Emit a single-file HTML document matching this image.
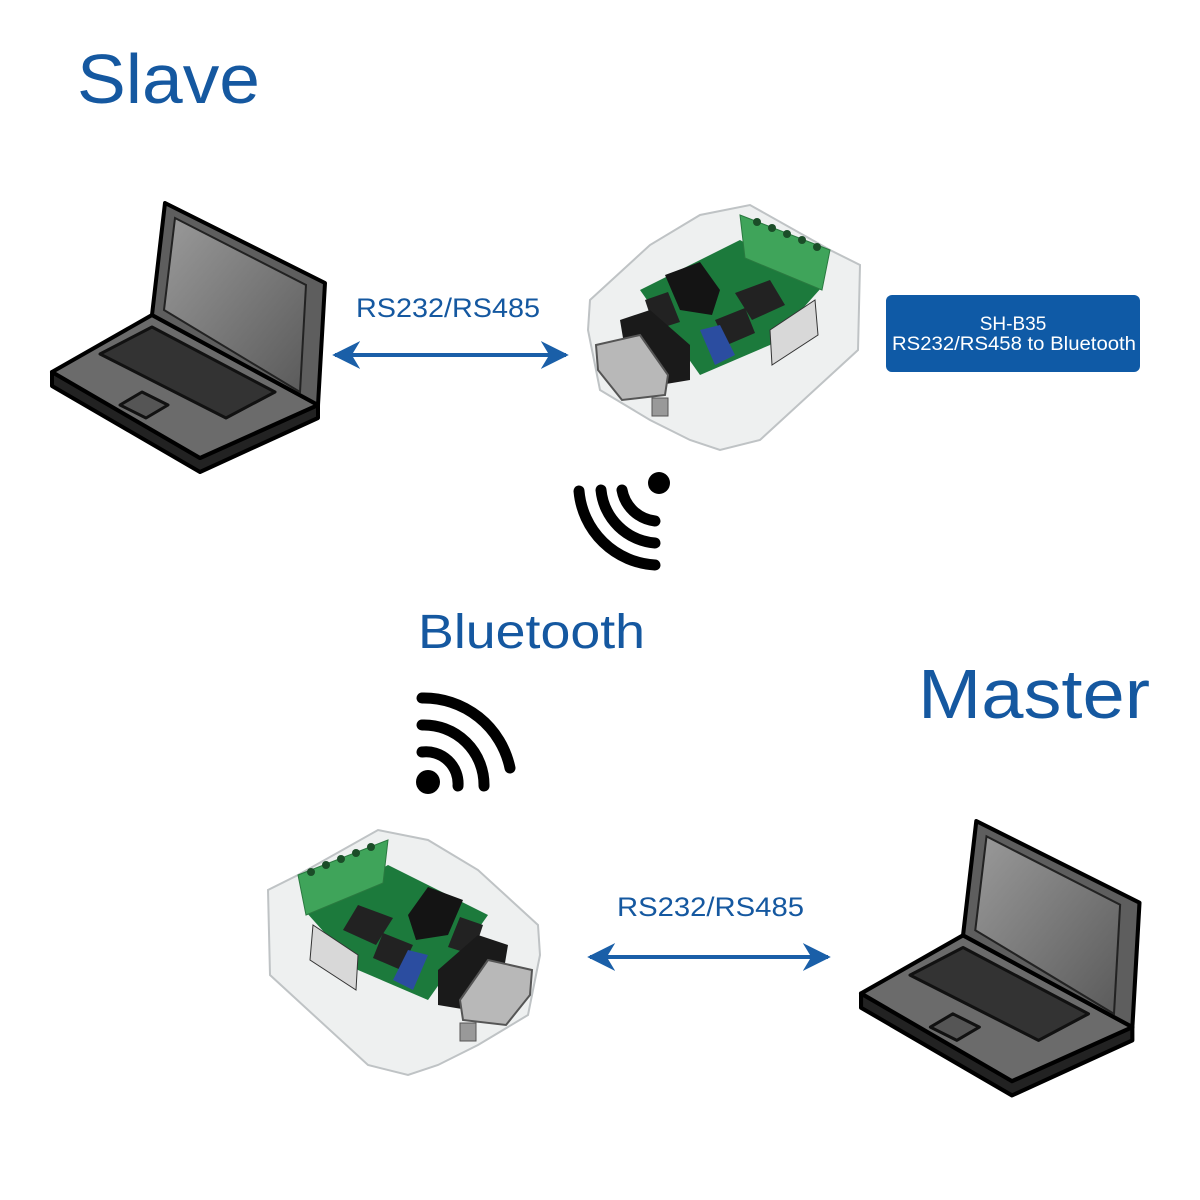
<!DOCTYPE html>
<html><head><meta charset="utf-8"><style>
html,body{margin:0;padding:0;background:#fff;}
svg{display:block;}
text{font-family:"Liberation Sans","DejaVu Sans",sans-serif;}
</style></head><body>
<svg width="1200" height="1200" viewBox="0 0 1200 1200" xmlns="http://www.w3.org/2000/svg">
<defs>
<linearGradient id="scr" x1="0" y1="0" x2="1" y2="1"><stop offset="0" stop-color="#9a9a9a"/><stop offset="1" stop-color="#5a5a5a"/></linearGradient>
<marker id="ah" viewBox="0 0 10 10" refX="9" refY="5" markerWidth="7" markerHeight="7" orient="auto-start-reverse"><path d="M0,0 L10,5 L0,10 L3,5 z" fill="#1a5fa8"/></marker>
<g id="laptop">
 <polygon points="52,372 200,458 318,405 318,418 200,472 52,386" fill="#222" stroke="#000" stroke-width="4" stroke-linejoin="round"/>
 <polygon points="52,372 152,315 318,405 200,458" fill="#6b6b6b" stroke="#000" stroke-width="4" stroke-linejoin="round"/>
 <polygon points="152,315 165,203 325,283 318,405" fill="#5e5e5e" stroke="#000" stroke-width="4" stroke-linejoin="round"/>
 <polygon points="164,310 175,218 306,285 300,392" fill="url(#scr)" stroke="#222" stroke-width="2"/>
 <polygon points="100,354 152,327 275,392 226,418" fill="#333" stroke="#111" stroke-width="3" stroke-linejoin="round"/>
 <polygon points="120,405 142,392 168,405 146,418" fill="#555" stroke="#111" stroke-width="3" stroke-linejoin="round"/>
</g>
<g id="dev">
 <polygon points="590,300 650,245 700,215 750,205 830,250 860,265 858,350 760,440 720,450 690,440 650,420 600,390 588,330" fill="#eef0f0" stroke="#bfc3c5" stroke-width="2"/>
 <polygon points="640,290 740,240 822,287 770,345 700,375" fill="#1c7a3c"/>
 <polygon points="740,215 830,250 822,290 745,258" fill="#3fa45a" stroke="#2a7a40"/>
 <g fill="#1b4d28"><circle cx="757" cy="222" r="4"/><circle cx="772" cy="228" r="4"/><circle cx="787" cy="234" r="4"/><circle cx="802" cy="240" r="4"/><circle cx="817" cy="247" r="4"/></g>
 <polygon points="665,275 700,262 720,290 712,315 680,310" fill="#141414"/>
 <polygon points="645,300 668,292 680,322 655,330" fill="#222"/>
 <polygon points="620,320 650,310 690,345 690,380 660,385 625,350" fill="#1a1a1a"/>
 <polygon points="735,293 770,280 785,305 752,320" fill="#222"/>
 <polygon points="715,320 745,308 755,333 727,345" fill="#222"/>
 <polygon points="700,330 720,325 735,355 715,365" fill="#2b4da0"/>
 <polygon points="770,330 815,300 818,335 772,365" fill="#d8d8d8" stroke="#333"/>
 <polygon points="596,345 640,335 668,375 665,395 622,400 598,370" fill="#b8b8b8" stroke="#555" stroke-width="2"/>
 <rect x="652" y="398" width="16" height="18" fill="#999" stroke="#555"/>
</g>
</defs>

<text x="77" y="103" font-size="70" fill="#1558a0" textLength="183" lengthAdjust="spacingAndGlyphs">Slave</text>
<text x="918" y="718" font-size="70" fill="#1558a0" textLength="232" lengthAdjust="spacingAndGlyphs">Master</text>
<text x="418" y="648" font-size="48" fill="#1558a0" textLength="227" lengthAdjust="spacingAndGlyphs">Bluetooth</text>

<use href="#laptop"/>
<use href="#laptop" transform="translate(808,614) scale(1.02)"/>
<use href="#dev"/>
<use href="#dev" transform="translate(1128,625) scale(-1,1)"/>

<text x="356" y="317" font-size="27" fill="#1558a0" textLength="184" lengthAdjust="spacingAndGlyphs">RS232/RS485</text>
<line x1="335" y1="355" x2="566" y2="355" stroke="#1a5fa8" stroke-width="4" marker-start="url(#ah)" marker-end="url(#ah)"/>
<text x="617" y="916" font-size="27" fill="#1558a0" textLength="187" lengthAdjust="spacingAndGlyphs">RS232/RS485</text>
<line x1="590" y1="957" x2="828" y2="957" stroke="#1a5fa8" stroke-width="4" marker-start="url(#ah)" marker-end="url(#ah)"/>

<rect x="886" y="295" width="254" height="77" rx="6" fill="#0f5aa6"/>
<text x="1013" y="330" font-size="19" fill="#fff" text-anchor="middle">SH-B35</text>
<text x="892" y="350" font-size="19" fill="#fff" textLength="244" lengthAdjust="spacingAndGlyphs">RS232/RS458 to Bluetooth</text>

<!-- wifi top (down-left) -->
<circle cx="659" cy="483" r="11" fill="#000"/>
<g fill="none" stroke="#000" stroke-width="11" stroke-linecap="round">
 <path d="M622,490 A38,38 0 0 0 655,521"/>
 <path d="M601,490 A59,59 0 0 0 655,543"/>
 <path d="M579,491 A81,81 0 0 0 655,565"/>
</g>
<!-- wifi bottom (up-right) -->
<circle cx="428" cy="782" r="12" fill="#000"/>
<g fill="none" stroke="#000" stroke-width="11" stroke-linecap="round">
 <path d="M422,752 A32,32 0 0 1 458,786"/>
 <path d="M422,725 A60,60 0 0 1 484,786"/>
 <path d="M422,698 A88,88 0 0 1 510,768"/>
</g>
</svg>
</body></html>
